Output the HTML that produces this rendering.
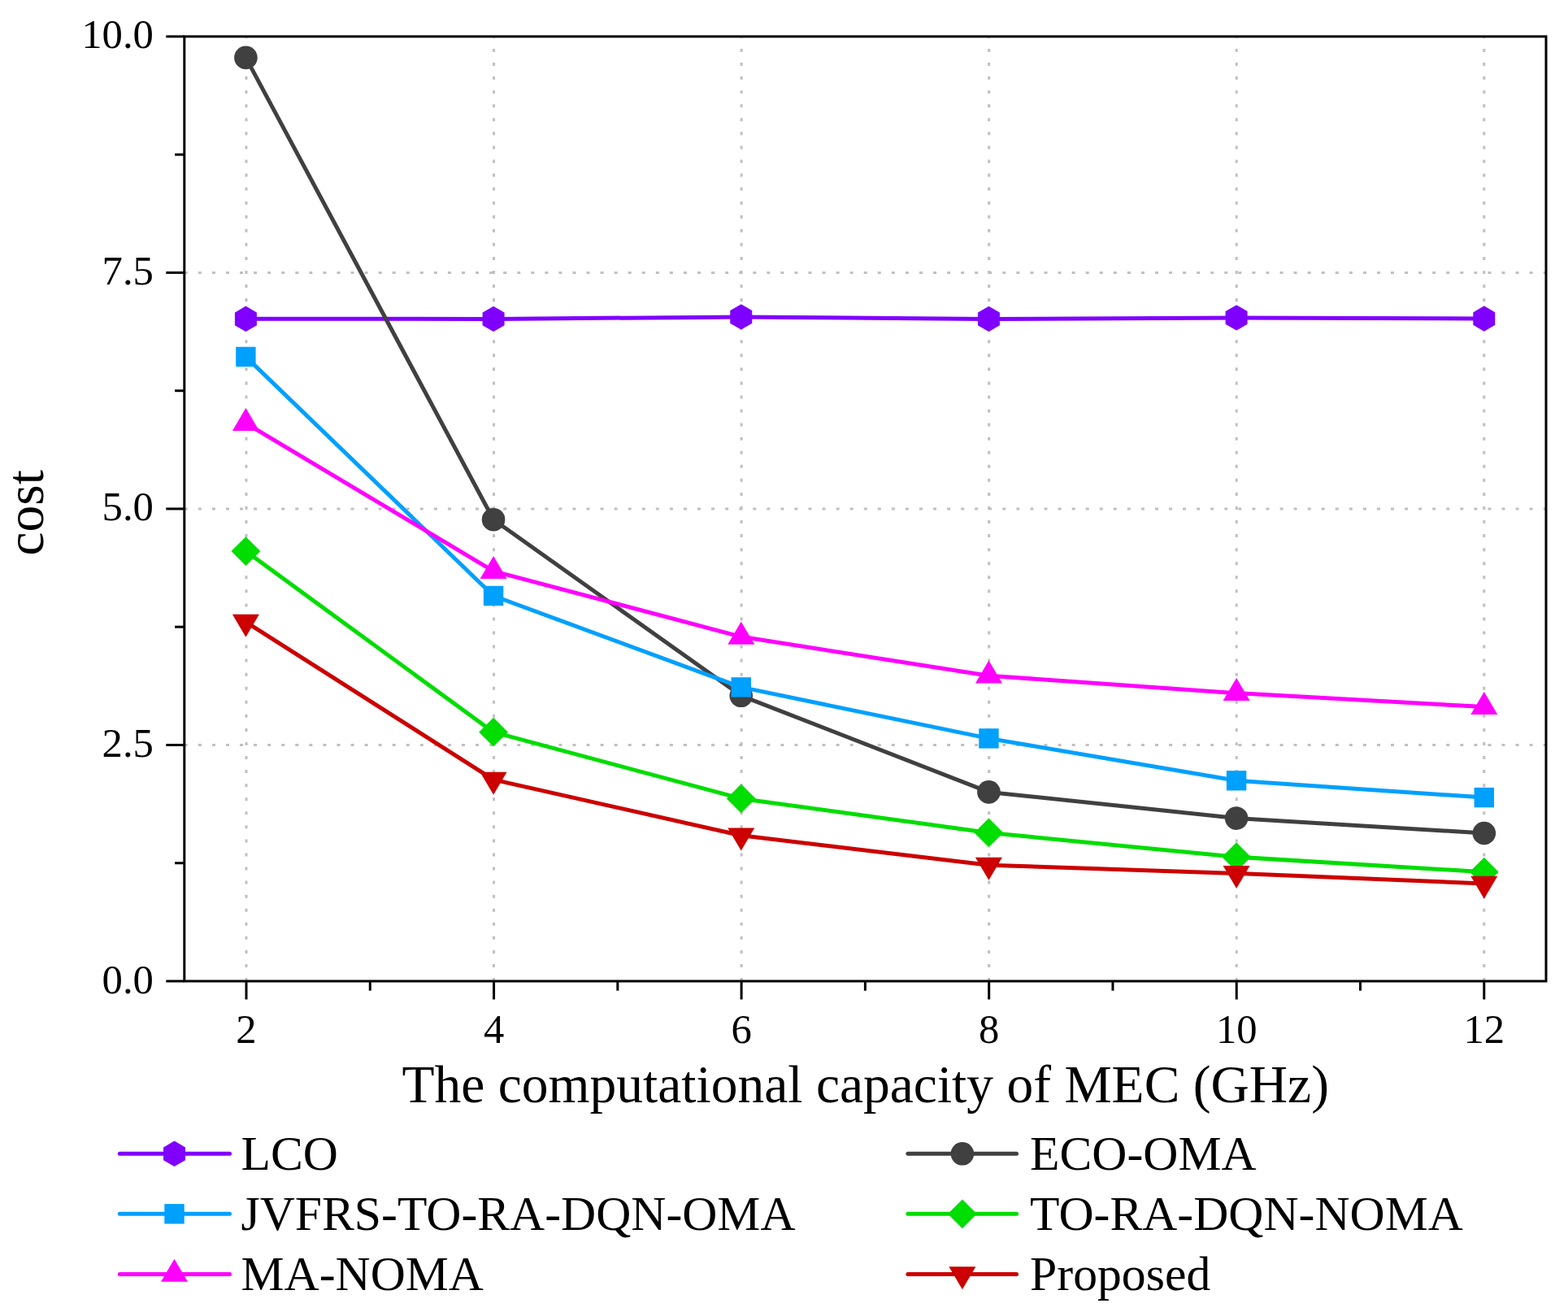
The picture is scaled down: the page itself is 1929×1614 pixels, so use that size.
<!DOCTYPE html>
<html><head><meta charset="utf-8"><title>cost vs computational capacity</title>
<style>html,body{margin:0;padding:0;background:#fff;overflow:hidden}svg{display:block}</style>
</head><body>
<svg width="1929" height="1614" viewBox="0 0 1929 1614">
<rect width="1929" height="1614" fill="#fff"/>
<g stroke="#C0C0C0" stroke-width="3" stroke-dasharray="4.0 13.06"><line x1="303.00" y1="1207.00" x2="303.00" y2="44.90"/><line x1="607.56" y1="1207.00" x2="607.56" y2="44.90"/><line x1="912.12" y1="1207.00" x2="912.12" y2="44.90"/><line x1="1216.68" y1="1207.00" x2="1216.68" y2="44.90"/><line x1="1521.24" y1="1207.00" x2="1521.24" y2="44.90"/><line x1="1825.80" y1="1207.00" x2="1825.80" y2="44.90"/><line x1="226.80" y1="916.48" x2="1902.00" y2="916.48"/><line x1="226.80" y1="625.95" x2="1902.00" y2="625.95"/><line x1="226.80" y1="335.43" x2="1902.00" y2="335.43"/></g>
<polyline points="302.40,392.30 607.08,392.40 911.76,389.90 1216.44,392.40 1521.12,390.90 1825.80,392.00" fill="none" stroke="#8000FF" stroke-width="5.0" stroke-linejoin="round"/>
<polygon points="302.40,376.60 315.90,384.45 315.90,400.15 302.40,408.00 288.90,400.15 288.90,384.45" fill="#8000FF"/><polygon points="607.08,376.70 620.58,384.55 620.58,400.25 607.08,408.10 593.58,400.25 593.58,384.55" fill="#8000FF"/><polygon points="911.76,374.20 925.26,382.05 925.26,397.75 911.76,405.60 898.26,397.75 898.26,382.05" fill="#8000FF"/><polygon points="1216.44,376.70 1229.94,384.55 1229.94,400.25 1216.44,408.10 1202.94,400.25 1202.94,384.55" fill="#8000FF"/><polygon points="1521.12,375.20 1534.62,383.05 1534.62,398.75 1521.12,406.60 1507.62,398.75 1507.62,383.05" fill="#8000FF"/><polygon points="1825.80,376.30 1839.30,384.15 1839.30,399.85 1825.80,407.70 1812.30,399.85 1812.30,384.15" fill="#8000FF"/>
<polyline points="302.40,70.90 607.08,639.20 911.76,855.80 1216.44,974.40 1521.12,1006.60 1825.80,1025.00" fill="none" stroke="#404040" stroke-width="5.0" stroke-linejoin="round"/>
<circle cx="302.40" cy="70.90" r="14.3" fill="#404040"/><circle cx="607.08" cy="639.20" r="14.3" fill="#404040"/><circle cx="911.76" cy="855.80" r="14.3" fill="#404040"/><circle cx="1216.44" cy="974.40" r="14.3" fill="#404040"/><circle cx="1521.12" cy="1006.60" r="14.3" fill="#404040"/><circle cx="1825.80" cy="1025.00" r="14.3" fill="#404040"/>
<polyline points="302.40,438.90 607.08,733.00 911.76,845.40 1216.44,908.40 1521.12,960.30 1825.80,981.10" fill="none" stroke="#00A0FF" stroke-width="5.0" stroke-linejoin="round"/>
<rect x="290.20" y="426.70" width="24.40" height="24.40" fill="#00A0FF"/><rect x="594.88" y="720.80" width="24.40" height="24.40" fill="#00A0FF"/><rect x="899.56" y="833.20" width="24.40" height="24.40" fill="#00A0FF"/><rect x="1204.24" y="896.20" width="24.40" height="24.40" fill="#00A0FF"/><rect x="1508.92" y="948.10" width="24.40" height="24.40" fill="#00A0FF"/><rect x="1813.60" y="968.90" width="24.40" height="24.40" fill="#00A0FF"/>
<polyline points="302.40,678.10 607.08,900.70 911.76,982.40 1216.44,1024.40 1521.12,1054.20 1825.80,1072.70" fill="none" stroke="#00DD00" stroke-width="5.0" stroke-linejoin="round"/>
<polygon points="302.40,660.20 320.30,678.10 302.40,696.00 284.50,678.10" fill="#00DD00"/><polygon points="607.08,882.80 624.98,900.70 607.08,918.60 589.18,900.70" fill="#00DD00"/><polygon points="911.76,964.50 929.66,982.40 911.76,1000.30 893.86,982.40" fill="#00DD00"/><polygon points="1216.44,1006.50 1234.34,1024.40 1216.44,1042.30 1198.54,1024.40" fill="#00DD00"/><polygon points="1521.12,1036.30 1539.02,1054.20 1521.12,1072.10 1503.22,1054.20" fill="#00DD00"/><polygon points="1825.80,1054.80 1843.70,1072.70 1825.80,1090.60 1807.90,1072.70" fill="#00DD00"/>
<polyline points="302.40,520.60 607.08,702.60 911.76,783.30 1216.44,831.20 1521.12,852.70 1825.80,869.60" fill="none" stroke="#FF00FF" stroke-width="5.0" stroke-linejoin="round"/>
<polygon points="302.40,501.93 318.90,529.93 285.90,529.93" fill="#FF00FF"/><polygon points="607.08,683.93 623.58,711.93 590.58,711.93" fill="#FF00FF"/><polygon points="911.76,764.63 928.26,792.63 895.26,792.63" fill="#FF00FF"/><polygon points="1216.44,812.53 1232.94,840.53 1199.94,840.53" fill="#FF00FF"/><polygon points="1521.12,834.03 1537.62,862.03 1504.62,862.03" fill="#FF00FF"/><polygon points="1825.80,850.93 1842.30,878.93 1809.30,878.93" fill="#FF00FF"/>
<polyline points="302.40,765.10 607.08,959.10 911.76,1027.80 1216.44,1064.20 1521.12,1074.40 1825.80,1087.00" fill="none" stroke="#CC0000" stroke-width="5.0" stroke-linejoin="round"/>
<polygon points="302.40,783.77 318.90,755.77 285.90,755.77" fill="#CC0000"/><polygon points="607.08,977.77 623.58,949.77 590.58,949.77" fill="#CC0000"/><polygon points="911.76,1046.47 928.26,1018.47 895.26,1018.47" fill="#CC0000"/><polygon points="1216.44,1082.87 1232.94,1054.87 1199.94,1054.87" fill="#CC0000"/><polygon points="1521.12,1093.07 1537.62,1065.07 1504.62,1065.07" fill="#CC0000"/><polygon points="1825.80,1105.67 1842.30,1077.67 1809.30,1077.67" fill="#CC0000"/>
<g stroke="#000" stroke-width="3" stroke-linecap="butt"><rect x="226.80" y="44.90" width="1675.20" height="1162.10" fill="none"/><line x1="303.00" y1="1207.00" x2="303.00" y2="1229.50"/><line x1="607.56" y1="1207.00" x2="607.56" y2="1229.50"/><line x1="912.12" y1="1207.00" x2="912.12" y2="1229.50"/><line x1="1216.68" y1="1207.00" x2="1216.68" y2="1229.50"/><line x1="1521.24" y1="1207.00" x2="1521.24" y2="1229.50"/><line x1="1825.80" y1="1207.00" x2="1825.80" y2="1229.50"/><line x1="455.28" y1="1207.00" x2="455.28" y2="1218.70"/><line x1="759.84" y1="1207.00" x2="759.84" y2="1218.70"/><line x1="1064.40" y1="1207.00" x2="1064.40" y2="1218.70"/><line x1="1368.96" y1="1207.00" x2="1368.96" y2="1218.70"/><line x1="1673.52" y1="1207.00" x2="1673.52" y2="1218.70"/><line x1="226.80" y1="1207.00" x2="204.30" y2="1207.00"/><line x1="226.80" y1="916.48" x2="204.30" y2="916.48"/><line x1="226.80" y1="625.95" x2="204.30" y2="625.95"/><line x1="226.80" y1="335.43" x2="204.30" y2="335.43"/><line x1="226.80" y1="44.90" x2="204.30" y2="44.90"/><line x1="226.80" y1="1061.74" x2="215.10" y2="1061.74"/><line x1="226.80" y1="771.21" x2="215.10" y2="771.21"/><line x1="226.80" y1="480.69" x2="215.10" y2="480.69"/><line x1="226.80" y1="190.16" x2="215.10" y2="190.16"/></g>
<g font-family="&quot;Liberation Serif&quot;, serif" font-size="50.7" fill="#000"><text x="188.9" y="1221.50" text-anchor="end">0.0</text><text x="188.9" y="930.98" text-anchor="end">2.5</text><text x="188.9" y="640.45" text-anchor="end">5.0</text><text x="188.9" y="349.93" text-anchor="end">7.5</text><text x="188.9" y="59.40" text-anchor="end">10.0</text><text x="303.00" y="1283" text-anchor="middle">2</text><text x="607.56" y="1283" text-anchor="middle">4</text><text x="912.12" y="1283" text-anchor="middle">6</text><text x="1216.68" y="1283" text-anchor="middle">8</text><text x="1521.24" y="1283" text-anchor="middle">10</text><text x="1825.80" y="1283" text-anchor="middle">12</text></g>
<text font-family="&quot;Liberation Serif&quot;, serif" font-size="65.5" x="1064.8" y="1356" text-anchor="middle">The computational capacity of MEC (GHz)</text>
<text font-family="&quot;Liberation Serif&quot;, serif" font-size="65.5" transform="translate(52.5,630.7) rotate(-90)" text-anchor="middle">cost</text>
<line x1="147.30" y1="1419.30" x2="282.50" y2="1419.30" stroke="#8000FF" stroke-width="5.0" stroke-linecap="round"/>
<polygon points="214.50,1403.60 228.00,1411.45 228.00,1427.15 214.50,1435.00 201.00,1427.15 201.00,1411.45" fill="#8000FF"/>
<text font-family="&quot;Liberation Serif&quot;, serif" font-size="59.7" x="296.50" y="1438.90">LCO</text>
<line x1="1116.90" y1="1419.30" x2="1250.50" y2="1419.30" stroke="#404040" stroke-width="5.0" stroke-linecap="round"/>
<circle cx="1183.90" cy="1419.30" r="14.3" fill="#404040"/>
<text font-family="&quot;Liberation Serif&quot;, serif" font-size="59.7" x="1267.10" y="1438.90">ECO-OMA</text>
<line x1="147.30" y1="1493.30" x2="282.50" y2="1493.30" stroke="#00A0FF" stroke-width="5.0" stroke-linecap="round"/>
<rect x="202.30" y="1481.10" width="24.40" height="24.40" fill="#00A0FF"/>
<text font-family="&quot;Liberation Serif&quot;, serif" font-size="59.7" x="296.50" y="1512.90">JVFRS-TO-RA-DQN-OMA</text>
<line x1="1116.90" y1="1493.30" x2="1250.50" y2="1493.30" stroke="#00DD00" stroke-width="5.0" stroke-linecap="round"/>
<polygon points="1183.90,1475.40 1201.80,1493.30 1183.90,1511.20 1166.00,1493.30" fill="#00DD00"/>
<text font-family="&quot;Liberation Serif&quot;, serif" font-size="59.7" x="1267.10" y="1512.90">TO-RA-DQN-NOMA</text>
<line x1="147.30" y1="1567.50" x2="282.50" y2="1567.50" stroke="#FF00FF" stroke-width="5.0" stroke-linecap="round"/>
<polygon points="214.50,1548.83 231.00,1576.83 198.00,1576.83" fill="#FF00FF"/>
<text font-family="&quot;Liberation Serif&quot;, serif" font-size="59.7" x="296.50" y="1587.10">MA-NOMA</text>
<line x1="1116.90" y1="1567.50" x2="1250.50" y2="1567.50" stroke="#CC0000" stroke-width="5.0" stroke-linecap="round"/>
<polygon points="1183.90,1586.17 1200.40,1558.17 1167.40,1558.17" fill="#CC0000"/>
<text font-family="&quot;Liberation Serif&quot;, serif" font-size="59.7" x="1267.10" y="1587.10">Proposed</text>
</svg>
</body></html>
